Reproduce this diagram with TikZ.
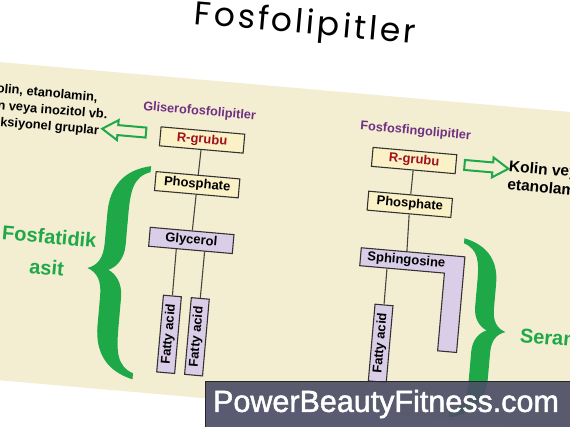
\documentclass[tikz,border=0pt]{standalone}
\usepackage{fontspec}
\setmainfont{Liberation Sans}
\newfontfamily\titlefont{Poppins}
\definecolor{slidebg}{RGB}{243,238,210}
\definecolor{boxyel}{RGB}{251,241,198}
\definecolor{boxlav}{RGB}{217,205,232}
\definecolor{brgreen}{RGB}{30,168,72}
\definecolor{headpurple}{RGB}{112,48,130}
\definecolor{rdred}{RGB}{160,16,30}
\definecolor{wmgray}{RGB}{76,78,102}
\definecolor{lineol}{RGB}{70,70,60}
\usetikzlibrary{shapes.arrows,calc}
\newcommand{\drawbrace}[1]{\fill[#1] (29,107) .. controls (2,101) and (-10.5,83) .. (-10.5,56.5)
  -- (-10.5,26.5) .. controls (-10.5,11.5) and (-15.5,3.5) .. (-25.5,0)
  .. controls (-15.5,-3.5) and (-10.5,-11.5) .. (-10.5,-26.5) -- (-10.5,-56.5)
  .. controls (-10.5,-83) and (2,-101) .. (29,-107) -- (29,-101)
  .. controls (12,-95) and (10.5,-80) .. (10.5,-56.5) -- (10.5,-26.5)
  .. controls (10.5,-12.5) and (3.5,-3.5) .. (-4.5,0)
  .. controls (3.5,3.5) and (10.5,12.5) .. (10.5,26.5) -- (10.5,56.5)
  .. controls (10.5,80) and (12,95) .. (29,101) -- cycle;}

\begin{document}
\begin{tikzpicture}[x=1pt,y=1pt,
    labbox/.style={draw=black!80,line width=1.1pt,minimum width=84pt,
                   minimum height=19pt,inner sep=0pt,
                   font=\bfseries\fontsize{13}{13}\selectfont},
    ybox/.style={labbox,fill=boxyel},
    lbox/.style={labbox,fill=boxlav},
    fbox/.style={lbox,rotate=90,minimum width=77pt,minimum height=18pt},
    headtxt/.style={text=headpurple,font=\bfseries\fontsize{12.7}{13}\selectfont},
    conn/.style={draw=lineol,line width=1.1pt},
    garrow/.style={single arrow,draw=brgreen,line width=2pt,fill=slidebg,
                   inner sep=4pt,single arrow head extend=5pt,
                   single arrow tip angle=65,minimum height=44pt},
    note/.style={font=\bfseries\fontsize{12.8}{16.5}\selectfont,
                 align=center,inner sep=0pt},
    gtext/.style={text=brgreen,font=\bfseries\fontsize{20}{31}\selectfont,
                  align=center,inner sep=0pt}]
  \fill[white] (0,0) rectangle (570,427);
  \clip (0,0) rectangle (570,427);
  \begin{scope}[shift={(285,213.5)},rotate=-5,transform shape]
    \fill[slidebg] (-340,-191) rectangle (340,126);
    \node[font=\titlefont\fontsize{33}{33}\selectfont\addfontfeatures{LetterSpace=9}]
          (ttl) at (3.4,189) {Fosfolipitler};
    % glycero side
    \node[headtxt] (glhead) at (-94,94) {Gliserofosfolipitler};
    \node[ybox,text=rdred] (rgl) at (-89,66) {R-grubu};
    \node[ybox] (phl) at (-90,21) {Phosphate};
    \node[lbox] (gly) at (-91,-35) {Glycerol};
    \node[fbox] (fa1) at (-105,-130.5) {Fatty acid};
    \node[fbox] (fa2) at (-77,-130.5) {Fatty acid};
    \node[garrow,shape border rotate=180] (arl) at (-163.6,68.5) {};
    \node[note] (fnl) at (-252,82)
          {Kolin, etanolamin,\\serin veya inozitol vb.\\fonksiyonel gruplar};
    \drawbrace{brgreen,shift={(-166.5,-71.5)}}
    \node[gtext] (fosl) at (-232.7,-59) {Fosfatidik\\asit};
    \draw[conn] (rgl) -- (phl);
    \draw[conn] (phl) -- (gly);
    \draw[conn] ($(gly.south west)!0.333!(gly.south east)$) -- (fa1.east);
    \draw[conn] ($(gly.south west)!0.667!(gly.south east)$) -- (fa2.east);
    % sphingo side
    \node[headtxt] (sfhead) at (123,93) {Fosfosfingolipitler};
    \node[ybox,text=rdred] (rsf) at (124,64) {R-grubu};
    \node[ybox] (phs) at (123.5,20) {Phosphate};
    \filldraw[fill=boxlav,draw=black!80,line width=1.1pt]
      (79,-27.5) -- (183,-27.5) -- (183,-123.5) -- (164,-123.5)
      -- (164,-45.5) -- (79,-45.5) -- cycle;
    \node[labbox,draw=none,minimum width=92pt,minimum height=18pt]
          (sph) at (125,-36.5) {Sphingosine};
    \node[fbox] (fa3) at (106.6,-121) {Fatty acid};
    \node[garrow] (arr) at (192.7,64) {};
    \node[note,anchor=west,align=left,font=\bfseries\fontsize{15.5}{18}\selectfont]
          (frt) at (219,57.9) {Kolin veya\\etanolamin};
    \drawbrace{brgreen,shift={(207,-98.9)},xscale=-0.9,yscale=0.84}
    \node[gtext,anchor=west] (serr) at (244.7,-100.6) {Seramid};
    \draw[conn] (rsf) -- (phs);
    \draw[conn] (phs) -- (sph);
    \draw[conn] ($(sph.south west)!0.3!(sph.south east)$) -- (fa3.east);
  \end{scope}
  % watermark
  \filldraw[fill=wmgray,fill opacity=0.92,draw=black!85,line width=1pt]
    (205,-5) rectangle (575,45.3);
  \node[text=white,font=\fontsize{30.5}{31}\selectfont\addfontfeatures{FakeBold=1.6}]
        (wm) at (386,23) {PowerBeautyFitness.com};
\end{tikzpicture}
\end{document}
